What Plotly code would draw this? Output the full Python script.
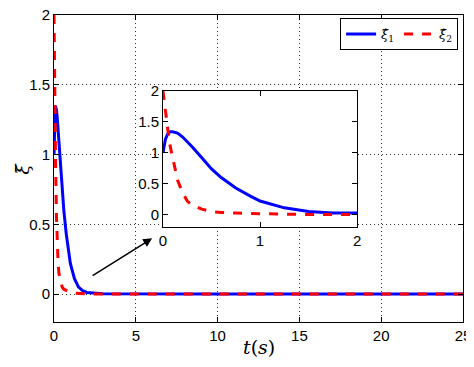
import plotly.graph_objects as go

t = [0, 0.025, 0.05, 0.075, 0.1, 0.15, 0.2, 0.25, 0.3, 0.4, 0.5, 0.6, 0.75, 0.9, 1.0,
     1.25, 1.5, 1.75, 2.0, 3, 5, 10, 15, 20, 25]
xi1 = [1.0, 1.22, 1.31, 1.34, 1.34, 1.32, 1.26, 1.18, 1.10, 0.92, 0.74, 0.60, 0.43, 0.30, 0.22,
       0.11, 0.05, 0.025, 0.012, 0.002, 0, 0, 0, 0, 0]
xi2 = [2.0, 1.65, 1.37, 1.10, 0.90, 0.56, 0.36, 0.22, 0.15, 0.09, 0.05, 0.035, 0.025, 0.017, 0.012,
       0.007, 0.004, 0.002, 0.001, 0, 0, 0, 0, 0, 0]

x_ticks = [0, 5, 10, 15, 20, 25]
y_ticks = [0, 0.5, 1, 1.5, 2]
inset_x_ticks = [0, 1, 2]

BLUE = "#0000ff"
RED = "#ff0000"
tickfont = dict(family="Liberation Sans, Arial", size=15, color="black")
serif = dict(family="DejaVu Serif, serif", size=19, color="black")

fig = go.Figure()
fig.add_trace(go.Scatter(x=t, y=xi1, mode="lines", name="<i>ξ̂</i><sub>1</sub>",
                         line=dict(color=BLUE, width=3)))
fig.add_trace(go.Scatter(x=t, y=xi2, mode="lines", name="<i>ξ̂</i><sub>2</sub>",
                         line=dict(color=RED, width=3, dash="dash")))
fig.add_trace(go.Scatter(x=t, y=xi1, mode="lines", showlegend=False,
                         line=dict(color=BLUE, width=3), xaxis="x2", yaxis="y2"))
fig.add_trace(go.Scatter(x=t, y=xi2, mode="lines", showlegend=False,
                         line=dict(color=RED, width=3, dash="dash"), xaxis="x2", yaxis="y2"))

ax_common = dict(showline=True, linecolor="black", linewidth=1, mirror="ticks",
                 ticks="inside", ticklen=5, tickcolor="black", tickfont=tickfont,
                 zeroline=False, automargin=False, ticklabeloverflow="allow")

fig.update_layout(
    width=466, height=359,
    margin=dict(l=46, r=11, t=7, b=45),
    paper_bgcolor="white", plot_bgcolor="white",
    xaxis=dict(range=[0, 25], tickvals=x_ticks, showgrid=True, gridcolor="#333333",
               griddash="1px,3px", gridwidth=1, **ax_common),
    yaxis=dict(range=[-0.2, 2], tickvals=y_ticks, showgrid=True, gridcolor="#333333",
               griddash="1px,3px", gridwidth=1, **ax_common),
    xaxis2=dict(domain=[0.2665, 0.741], anchor="y2", range=[0, 2], tickvals=inset_x_ticks,
                showgrid=False, **ax_common),
    yaxis2=dict(domain=[0.3094, 0.7524], anchor="x2", range=[-0.2, 2], tickvals=y_ticks,
                showgrid=False, **ax_common),
    legend=dict(orientation="h", x=0.988, y=0.99, xanchor="right", yanchor="top",
                bgcolor="white", bordercolor="black", borderwidth=1,
                font=dict(family="DejaVu Serif, serif", size=13, color="black"),
                itemwidth=30, tracegroupgap=0),
    shapes=[dict(type="rect", xref="x2", yref="y2", x0=0, x1=2,
                 y0=-0.2, y1=2, fillcolor="white", line=dict(width=0),
                 layer="below")],
    annotations=[
        dict(x=6.0, y=0.40, ax=2.27, ay=0.125, xref="x", yref="y",
             axref="x", ayref="y", showarrow=True, arrowhead=2,
             arrowsize=1.2, arrowwidth=1.5, arrowcolor="black", text=""),
        dict(text="<i>t</i>(<i>s</i>)", xref="paper", yref="paper", x=0.5, y=-0.082,
             xanchor="center", yanchor="middle", showarrow=False, font=serif),
        dict(text="<i>ξ̃</i>", xref="paper", yref="paper", x=-0.08, y=0.50,
             xanchor="center", yanchor="middle", showarrow=False, textangle=-90, font=serif),
    ],
)

fig.write_html("out.html")
